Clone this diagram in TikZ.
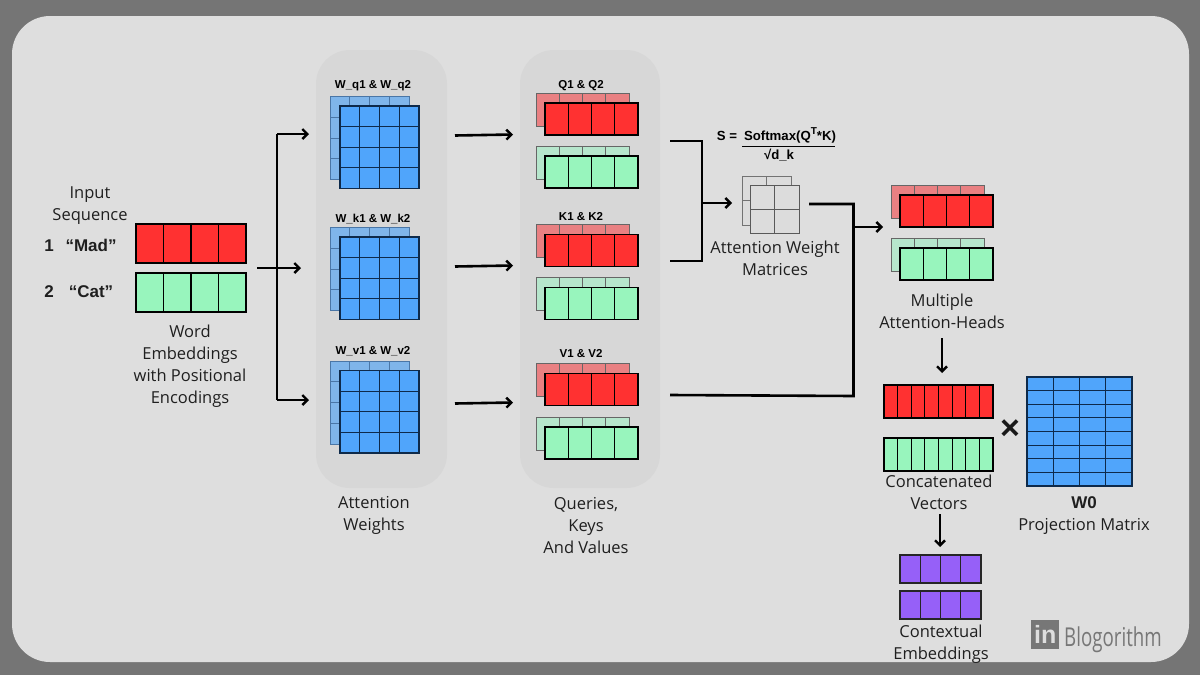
\documentclass[tikz,border=0pt]{standalone}
\usepackage{fontspec}
\setmainfont{Open Sans}
\newfontfamily\boldlab{Liberation Sans}[BoldFont={Liberation Sans Bold}]
\usetikzlibrary{arrows.meta}
\definecolor{outerbg}{HTML}{757575}
\definecolor{panelbg}{HTML}{DEDEDE}
\definecolor{colbg}{HTML}{D7D7D7}
\definecolor{redf}{HTML}{FF3131}
\definecolor{greenf}{HTML}{98F5BD}
\definecolor{bluef}{HTML}{50A5FB}
\definecolor{purplef}{HTML}{9660F8}
\definecolor{redb}{HTML}{E98082}
\definecolor{greenb}{HTML}{B6E6CC}
\definecolor{blueb}{HTML}{7FB5EA}
\definecolor{bluebl}{HTML}{4A76A6}
\definecolor{greyf}{HTML}{DCDCDC}
\definecolor{logoc}{HTML}{777777}
\definecolor{navyl}{HTML}{0E2A4A}
\tikzset{
  arr/.style={line width=2.6pt,-{Straight Barb[length=5pt,width=10pt,line width=2.4pt]},black},
  wire/.style={line width=2.6pt,black,line join=miter},
  lab/.style={anchor=base,align=center,inner sep=0pt,font=\fontsize{16.5}{17}\selectfont,text=black!88},
  blab/.style={anchor=base,inner sep=0pt,font=\boldlab\bfseries\fontsize{11.5}{12}\selectfont,text=black},
  ilab/.style={anchor=base,inner sep=0pt,font=\boldlab\bfseries\fontsize{17}{17}\selectfont,text=black!88},
  flab/.style={anchor=base,inner sep=0pt,font=\boldlab\bfseries\fontsize{13.2}{14}\selectfont,text=black},
}
% name, x1, y1, x2, y2, cols, rows, fill, line colour
\newcommand{\blk}[9]{%
  \pgfmathsetmacro{\blkw}{(#4)-(#2)}\pgfmathsetmacro{\blkh}{(#5)-(#3)}%
  \pgfmathsetmacro{\blkx}{#2}\pgfmathsetmacro{\blky}{#3}%
  \node[name=#1,draw=#9,fill=#8,line width=\blklw,anchor=north west,inner sep=0pt,outer sep=0pt,
        minimum width=\blkw pt,minimum height=\blkh pt] at (\blkx,\blky) {};%
  \foreach \ci in {1,...,#6}{\pgfmathsetmacro{\cx}{(#2)+\ci*((#4)-(#2))/#6}%
    \ifnum\ci<#6\relax\draw[#9,line width=\blklw] (\cx,#3) -- (\cx,#5);\fi}%
  \foreach \ri in {1,...,#7}{\pgfmathsetmacro{\ry}{(#3)+\ri*((#5)-(#3))/#7}%
    \ifnum\ri<#7\relax\draw[#9,line width=\blklw] (#2,\ry) -- (#4,\ry);\fi}%
}
\newcommand{\blklw}{1pt}
\newcommand{\frontlw}{\renewcommand{\blklw}{1.05pt}}
\newcommand{\backlw}{\renewcommand{\blklw}{0.8pt}}
% back+front pair of vectors
\newcommand{\vecpair}[6]{% name, x, y, back fill, front fill, back line
  \backlw\blk{#1b}{#2-9}{#3-10}{#2+84}{#3+23}{4}{1}{#4}{#6}%
  \frontlw\blk{#1f}{#2}{#3}{#2+93}{#3+32}{4}{1}{#5}{black}%
}
\newcommand{\matpair}[2]{% name, y of front top
  \backlw\blk{#1b}{330}{#2-9.5}{409}{#2+73.5}{4}{4}{blueb}{bluebl}%
  \frontlw\blk{#1f}{340}{#2}{419}{#2+82.5}{4}{4}{bluef}{navyl}%
}
\begin{document}
\begin{tikzpicture}[x=1pt,y=-1pt]
\useasboundingbox (0,0) rectangle (1200,675);
\fill[outerbg] (0,0) rectangle (1200,675);
\fill[panelbg,rounded corners=38pt] (12,16) rectangle (1189,662);
\fill[colbg,rounded corners=34pt] (316,50) rectangle (447,488);
\fill[colbg,rounded corners=34pt] (520,50) rectangle (660,488);

% input embeddings
\frontlw
\blk{emr}{136}{224}{246}{263}{4}{1}{redf}{black}
\blk{emg}{136}{273}{246}{312}{4}{1}{greenf}{black}
\node[lab] (lin1) at (90,198) {Input};
\node[lab] (lin2) at (90,220) {Sequence};
\node[ilab] (n1) at (49,251) {1};
\node[ilab] (mad) at (91,251) {“Mad”};
\node[ilab] (n2) at (49,297) {2};
\node[ilab] (cat) at (91,297) {“Cat”};
\node[lab] (we1) at (190,337) {Word};
\node[lab] (we2) at (190,359) {Embeddings};
\node[lab] (we3) at (190,381) {with Positional};
\node[lab] (we4) at (190,403) {Encodings};

% attention weights
\node[blab] (lq) at (373,88) {W\_q1 \& W\_q2};
\matpair{wq}{106}
\node[blab] (lk) at (373,222) {W\_k1 \& W\_k2};
\matpair{wk}{237}
\node[blab] (lv) at (373,354) {W\_v1 \& W\_v2};
\matpair{wv}{370.5}
\node[lab] (aw1) at (374,508) {Attention};
\node[lab] (aw2) at (374,530) {Weights};

% queries keys values
\node[blab] (tq) at (581,88) {Q1 \& Q2};
\vecpair{qr}{545}{103}{redb}{redf}{black!60}
\vecpair{qg}{545}{156}{greenb}{greenf}{black!60}
\node[blab] (tk) at (581,220) {K1 \& K2};
\vecpair{kr}{545}{234.5}{redb}{redf}{black!60}
\vecpair{kg}{545}{287.5}{greenb}{greenf}{black!60}
\node[blab] (tv) at (581,357) {V1 \& V2};
\vecpair{vr}{545}{373.5}{redb}{redf}{black!60}
\vecpair{vg}{545}{427}{greenb}{greenf}{black!60}
\node[lab] (qk1) at (586,509) {Queries,};
\node[lab] (qk2) at (586,531) {Keys};
\node[lab] (qk3) at (586,553) {And Values};

% attention matrices
\backlw\blk{amb}{742}{176}{791}{225}{2}{2}{greyf}{black!55}
\renewcommand{\blklw}{0.9pt}\blk{amf}{750}{185}{799}{233}{2}{2}{greyf}{black!65}
\node[flab] (fs) at (727,140.5) {S =};
\node[flab] (fn) at (790,140.5) {Softmax(Q\raisebox{6pt}{\fontsize{10}{10}\selectfont T}*K)};
\coordinate (fl1) at (742,146);
\coordinate (fl2) at (835,146);
\draw[black,line width=1pt] (fl1) -- (fl2);
\node[flab] (fd) at (779,159.5) {√d\_k};
\node[lab] (am1) at (775,253) {Attention Weight};
\node[lab] (am2) at (775,275) {Matrices};

% multiple heads
\vecpair{hr}{900}{195}{redb}{redf}{black!60}
\vecpair{hg}{900}{248}{greenb}{greenf}{black!60}
\node[lab] (mh1) at (942,306) {Multiple};
\node[lab] (mh2) at (942,328) {Attention-Heads};

% concatenated
\frontlw
\blk{cr}{884}{385}{993}{418}{8}{1}{redf}{black}
\blk{cg}{884}{438}{993}{471}{8}{1}{greenf}{black}
\node[lab] (cv1) at (939,487) {Concatenated};
\node[lab] (cv2) at (939,509) {Vectors};
\node[font=\boldlab\bfseries\fontsize{34}{34}\selectfont,inner sep=0pt,text=black!90] (times) at (1010,430) {×};
\blk{wo}{1027}{377}{1132}{486}{4}{8}{bluef}{navyl}
\node[anchor=base,inner sep=0pt,font=\boldlab\bfseries\fontsize{17}{17}\selectfont,text=black!88] (w0) at (1084,508) {W0};
\node[lab] (pm) at (1084,530) {Projection Matrix};
\blk{pu1}{900}{555}{981}{583}{4}{1}{purplef}{black!85}
\blk{pu2}{900}{591}{981}{619}{4}{1}{purplef}{black!85}
\node[lab] (ce1) at (941,637) {Contextual};
\node[lab] (ce2) at (941,659) {Embeddings};

% logo
\node[fill=logoc,anchor=north west,inner sep=0pt,minimum width=28pt,minimum height=29pt,
      text=panelbg,font=\boldlab\bfseries\fontsize{25}{25}\selectfont] (logo) at (1031,620) {\raisebox{-3pt}{in}};
\node[anchor=base west,inner sep=0pt,text=logoc,xscale=0.72,
      font=\fontsize{26}{26}\selectfont] (blog) at (1064,646) {Blogorithm};

% connectors
\coordinate (s0) at (257,268);
\coordinate (sj) at (277,268);
\coordinate (st) at (277,134);
\coordinate (sb) at (277,400);
\coordinate (e0) at (301,268);
\coordinate (et) at (309,134);
\coordinate (eb) at (309,400);
\draw[arr] (s0) -- (e0);
\draw[wire] (sj) -- (st);
\draw[wire] (sj) -- (sb);
\draw[arr] (st) -- (et);
\draw[arr] (sb) -- (eb);

\coordinate (a1s) at (455,135.5);\coordinate (a1e) at (513,134.5);
\coordinate (a2s) at (455,266.5);\coordinate (a2e) at (513,265.5);
\coordinate (a3s) at (455,403.5);\coordinate (a3e) at (513,402.5);
\draw[arr] (a1s) -- (a1e);
\draw[arr] (a2s) -- (a2e);
\draw[arr] (a3s) -- (a3e);

\coordinate (b1) at (670,141);\coordinate (b2) at (702,141);
\coordinate (b3) at (702,261);\coordinate (b4) at (670,261);
\coordinate (bm) at (702,203);\coordinate (be) at (732,203);
\draw[wire] (b1) -- (b2) -- (b3) -- (b4);
\draw[arr] (bm) -- (be);

\coordinate (c1) at (809,204);\coordinate (c2) at (853.5,204);
\coordinate (c3) at (853.5,396);\coordinate (c4) at (670,395);
\coordinate (cm) at (853.5,227);\coordinate (ce) at (883,227);
\draw[wire] (c1) -- (c2) -- (c3) -- (c4);
\draw[arr] (cm) -- (ce);

\coordinate (d1) at (942,338);\coordinate (d2) at (942,373);
\draw[arr] (d1) -- (d2);
\coordinate (g1) at (940,514);\coordinate (g2) at (940,547);
\draw[arr] (g1) -- (g2);
\end{tikzpicture}
\end{document}
